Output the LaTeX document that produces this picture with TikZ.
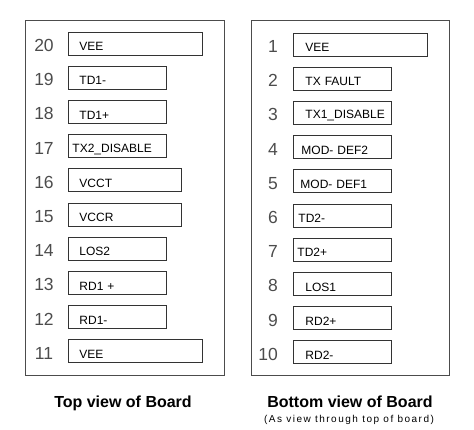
\documentclass[tikz,border=0pt]{standalone}
\usepackage{fontspec}
\setmainfont{Liberation Sans}
\newfontfamily\spacedfont[LetterSpace=15]{Liberation Sans}

\begin{document}
\begin{tikzpicture}[x=1pt,y=-1pt,
  frame/.style={draw=black!70, line width=0.9pt},
  pinbox/.style={draw=black!80, line width=0.9pt, anchor=west, minimum height=23pt,
    inner ysep=0pt, align=left, font=\fontsize{12}{12}\selectfont},
  pinnum/.style={text=black!70, inner sep=0pt, font=\fontsize{17.5}{18}\selectfont},
  caption/.style={inner sep=0pt, font=\bfseries\fontsize{16}{16}\selectfont}]

  \useasboundingbox (0,0) rectangle (474,430);

  % Top view of the board, pins 20 down to 11
  \draw[frame] (25,20) rectangle (224,375);
  \foreach \n/\txt/\w/\pad [count=\i from 0] in {
      20/VEE/134/11, 19/TD1-/98/11, 18/TD1+/98/11, 17/TX2\_DISABLE/98/4,
      16/VCCT/113/11, 15/VCCR/113/11, 14/LOS2/98/11, 13/RD1 +/98/11,
      12/RD1-/98/11, 11/VEE/134/11}{
    % text width is the box width less the padding on both sides
    \pgfmathsetmacro{\tw}{\w-2*\pad}
    \node[pinnum] (tn\n) at (44,45.5+34.2*\i) {\n};
    \node[pinbox, inner xsep=\pad pt, text width=\tw pt] (tp\n) at (68,43.5+34.2*\i)
      {\raisebox{-3pt}[\height][\depth]{\txt}};
  }

  % Bottom view of the board, pins 1 to 10
  \draw[frame] (251,20) rectangle (449,375);
  \foreach \n/\txt/\w/\pad [count=\i from 0] in {
      1/VEE/134/12, 2/TX FAULT/98/12, 3/TX1\_DISABLE/98/12, 4/MOD- DEF2/98/8,
      5/MOD- DEF1/98/7, 6/TD2-/98/5, 7/TD2+/98/4, 8/LOS1/98/12,
      9/RD2+/98/12, 10/RD2-/98/12}{
    \pgfmathsetmacro{\tw}{\w-2*\pad}
    \node[pinnum, anchor=east] (bn\n) at (278,46.5+34.2*\i) {\n};
    \node[pinbox, inner xsep=\pad pt, text width=\tw pt] (bp\n) at (293,44.5+34.2*\i)
      {\raisebox{-3pt}[\height][\depth]{\txt}};
  }

  % captions
  \node[caption] (topcap) at (123,403) {Top view of Board};
  \node[caption] (botcap) at (350,402) {Bottom view of Board};
  \node[inner sep=0pt, font=\spacedfont\fontsize{10}{10}\selectfont] (botnote) at (349,420)
    {(As view through top of board)};

\end{tikzpicture}
\end{document}
